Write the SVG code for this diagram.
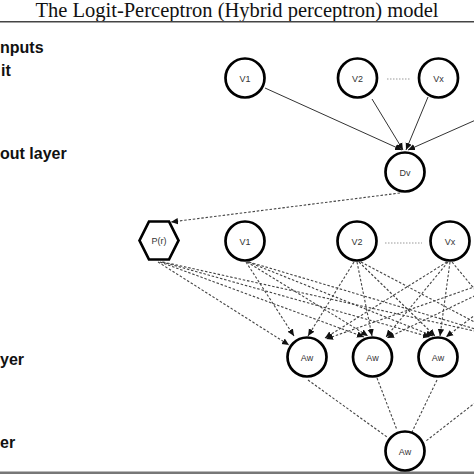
<svg xmlns="http://www.w3.org/2000/svg" width="474" height="474" viewBox="0 0 474 474">
<style>
.title{font-family:"Liberation Serif","Times New Roman",serif;font-size:20.5px;fill:#111}
.side{font-family:"Liberation Sans",Arial,sans-serif;font-size:16px;font-weight:bold;fill:#111}
.node circle,.node polygon{fill:#fff;stroke:#000;stroke-width:2.7}
.node text{font-family:"Liberation Sans",Arial,sans-serif;font-size:9px;fill:#333;text-anchor:middle}
.solid{stroke:#333;stroke-width:1;fill:none}
.dash{stroke:#444;stroke-width:1.1;stroke-dasharray:2.5 1.8;fill:none}
.dots{stroke:#999;stroke-width:1;stroke-dasharray:1.5 1.5;fill:none}
</style>
<defs>
<marker id="arr" markerUnits="userSpaceOnUse" markerWidth="8" markerHeight="8" refX="7" refY="4" orient="auto">
<path d="M0,0.8 L7,4 L0,7.2 Z" fill="#111"/>
</marker>
</defs>
<rect width="474" height="474" fill="#fff"/>
<text class="title" x="237" y="16.5" text-anchor="middle">The Logit-Perceptron (Hybrid perceptron) model</text>
<line x1="0" y1="21.8" x2="474" y2="21.8" stroke="#444" stroke-width="1.5"/>
<g id="side-labels">
<text class="side" x="0" y="53">nputs</text>
<text class="side" x="1" y="76">it</text>
<text class="side" x="0" y="159">out layer</text>
<text class="side" x="0" y="365">yer</text>
<text class="side" x="0" y="448">er</text>
</g>
<rect x="0" y="471.5" width="474" height="2.5" fill="#777"/>
<g id="connectors">
<line class="solid" x1="265" y1="88" x2="402" y2="150" marker-end="url(#arr)"/>
<line class="solid" x1="372" y1="99" x2="403" y2="150" marker-end="url(#arr)"/>
<line class="solid" x1="428" y1="97" x2="406" y2="150" marker-end="url(#arr)"/>
<line class="solid" x1="548" y1="88" x2="408" y2="150" marker-end="url(#arr)"/>
<line class="dash" x1="400" y1="193" x2="171" y2="222" marker-end="url(#arr)"/>
<line class="dots" x1="387" y1="79" x2="410" y2="79"/>
<line class="dots" x1="385" y1="243" x2="422" y2="243"/>
<line class="dash" x1="158" y1="262" x2="289" y2="345" marker-end="url(#arr)"/>
<line class="dash" x1="160" y1="262" x2="364" y2="337" marker-end="url(#arr)"/>
<line class="dash" x1="162" y1="262" x2="430" y2="337" marker-end="url(#arr)"/>
<line class="dash" x1="163" y1="262" x2="497" y2="336" marker-end="url(#arr)"/>
<line class="dash" x1="246" y1="262" x2="294" y2="336" marker-end="url(#arr)"/>
<line class="dash" x1="247" y1="262" x2="368" y2="336" marker-end="url(#arr)"/>
<line class="dash" x1="248" y1="262" x2="433" y2="336" marker-end="url(#arr)"/>
<line class="dash" x1="249" y1="262" x2="499" y2="336" marker-end="url(#arr)"/>
<line class="dash" x1="354" y1="262" x2="308" y2="336" marker-end="url(#arr)"/>
<line class="dash" x1="357" y1="262" x2="372" y2="336" marker-end="url(#arr)"/>
<line class="dash" x1="359" y1="262" x2="435" y2="336" marker-end="url(#arr)"/>
<line class="dash" x1="361" y1="262" x2="501" y2="336" marker-end="url(#arr)"/>
<line class="dash" x1="447" y1="262" x2="325" y2="338" marker-end="url(#arr)"/>
<line class="dash" x1="448" y1="262" x2="386" y2="337" marker-end="url(#arr)"/>
<line class="dash" x1="450" y1="262" x2="440" y2="336" marker-end="url(#arr)"/>
<line class="dash" x1="452" y1="262" x2="515" y2="338" marker-end="url(#arr)"/>
<line class="dash" x1="545" y1="262" x2="326" y2="339" marker-end="url(#arr)"/>
<line class="dash" x1="545" y1="262" x2="387" y2="338" marker-end="url(#arr)"/>
<line class="dash" x1="545" y1="262" x2="446" y2="337" marker-end="url(#arr)"/>
<line class="dash" x1="308" y1="380" x2="387" y2="437"/>
<line class="dash" x1="377" y1="378" x2="397" y2="430"/>
<line class="dash" x1="437" y1="380" x2="412" y2="432"/>
<line class="dash" x1="503" y1="381" x2="426" y2="441"/>
</g>
<g id="node-v1-top" class="node"><circle cx="245" cy="78" r="19.5"/><text x="245" y="81.5">V1</text></g>
<g id="node-v2-top" class="node"><circle cx="357.5" cy="78" r="19.5"/><text x="357.5" y="81.5">V2</text></g>
<g id="node-vx-top" class="node"><circle cx="438.5" cy="78" r="19.5"/><text x="438.5" y="81.5">Vx</text></g>
<g id="node-dv" class="node"><circle cx="405" cy="172" r="19.5"/><text x="405" y="175.5">Dv</text></g>
<g id="node-pr" class="node"><polygon points="139.5,240.5 149,221.5 169,221.5 178.5,240.5 169,259.5 149,259.5"/><text x="159" y="244">P(r)</text></g>
<g id="node-v1" class="node"><circle cx="245" cy="241" r="19.5"/><text x="245" y="244.5">V1</text></g>
<g id="node-v2" class="node"><circle cx="357" cy="241" r="19.5"/><text x="357" y="244.5">V2</text></g>
<g id="node-vx" class="node"><circle cx="450" cy="241" r="19.5"/><text x="450" y="244.5">Vx</text></g>
<g id="node-aw1" class="node"><circle cx="307" cy="357" r="19.5"/><text x="307" y="360.5">Aw</text></g>
<g id="node-aw2" class="node"><circle cx="372.5" cy="357" r="19.5"/><text x="372.5" y="360.5">Aw</text></g>
<g id="node-aw3" class="node"><circle cx="438" cy="357" r="19.5"/><text x="438" y="360.5">Aw</text></g>
<g id="node-aw-out" class="node"><circle cx="405" cy="451" r="19.5"/><text x="405" y="454.5">Aw</text></g>
</svg>
